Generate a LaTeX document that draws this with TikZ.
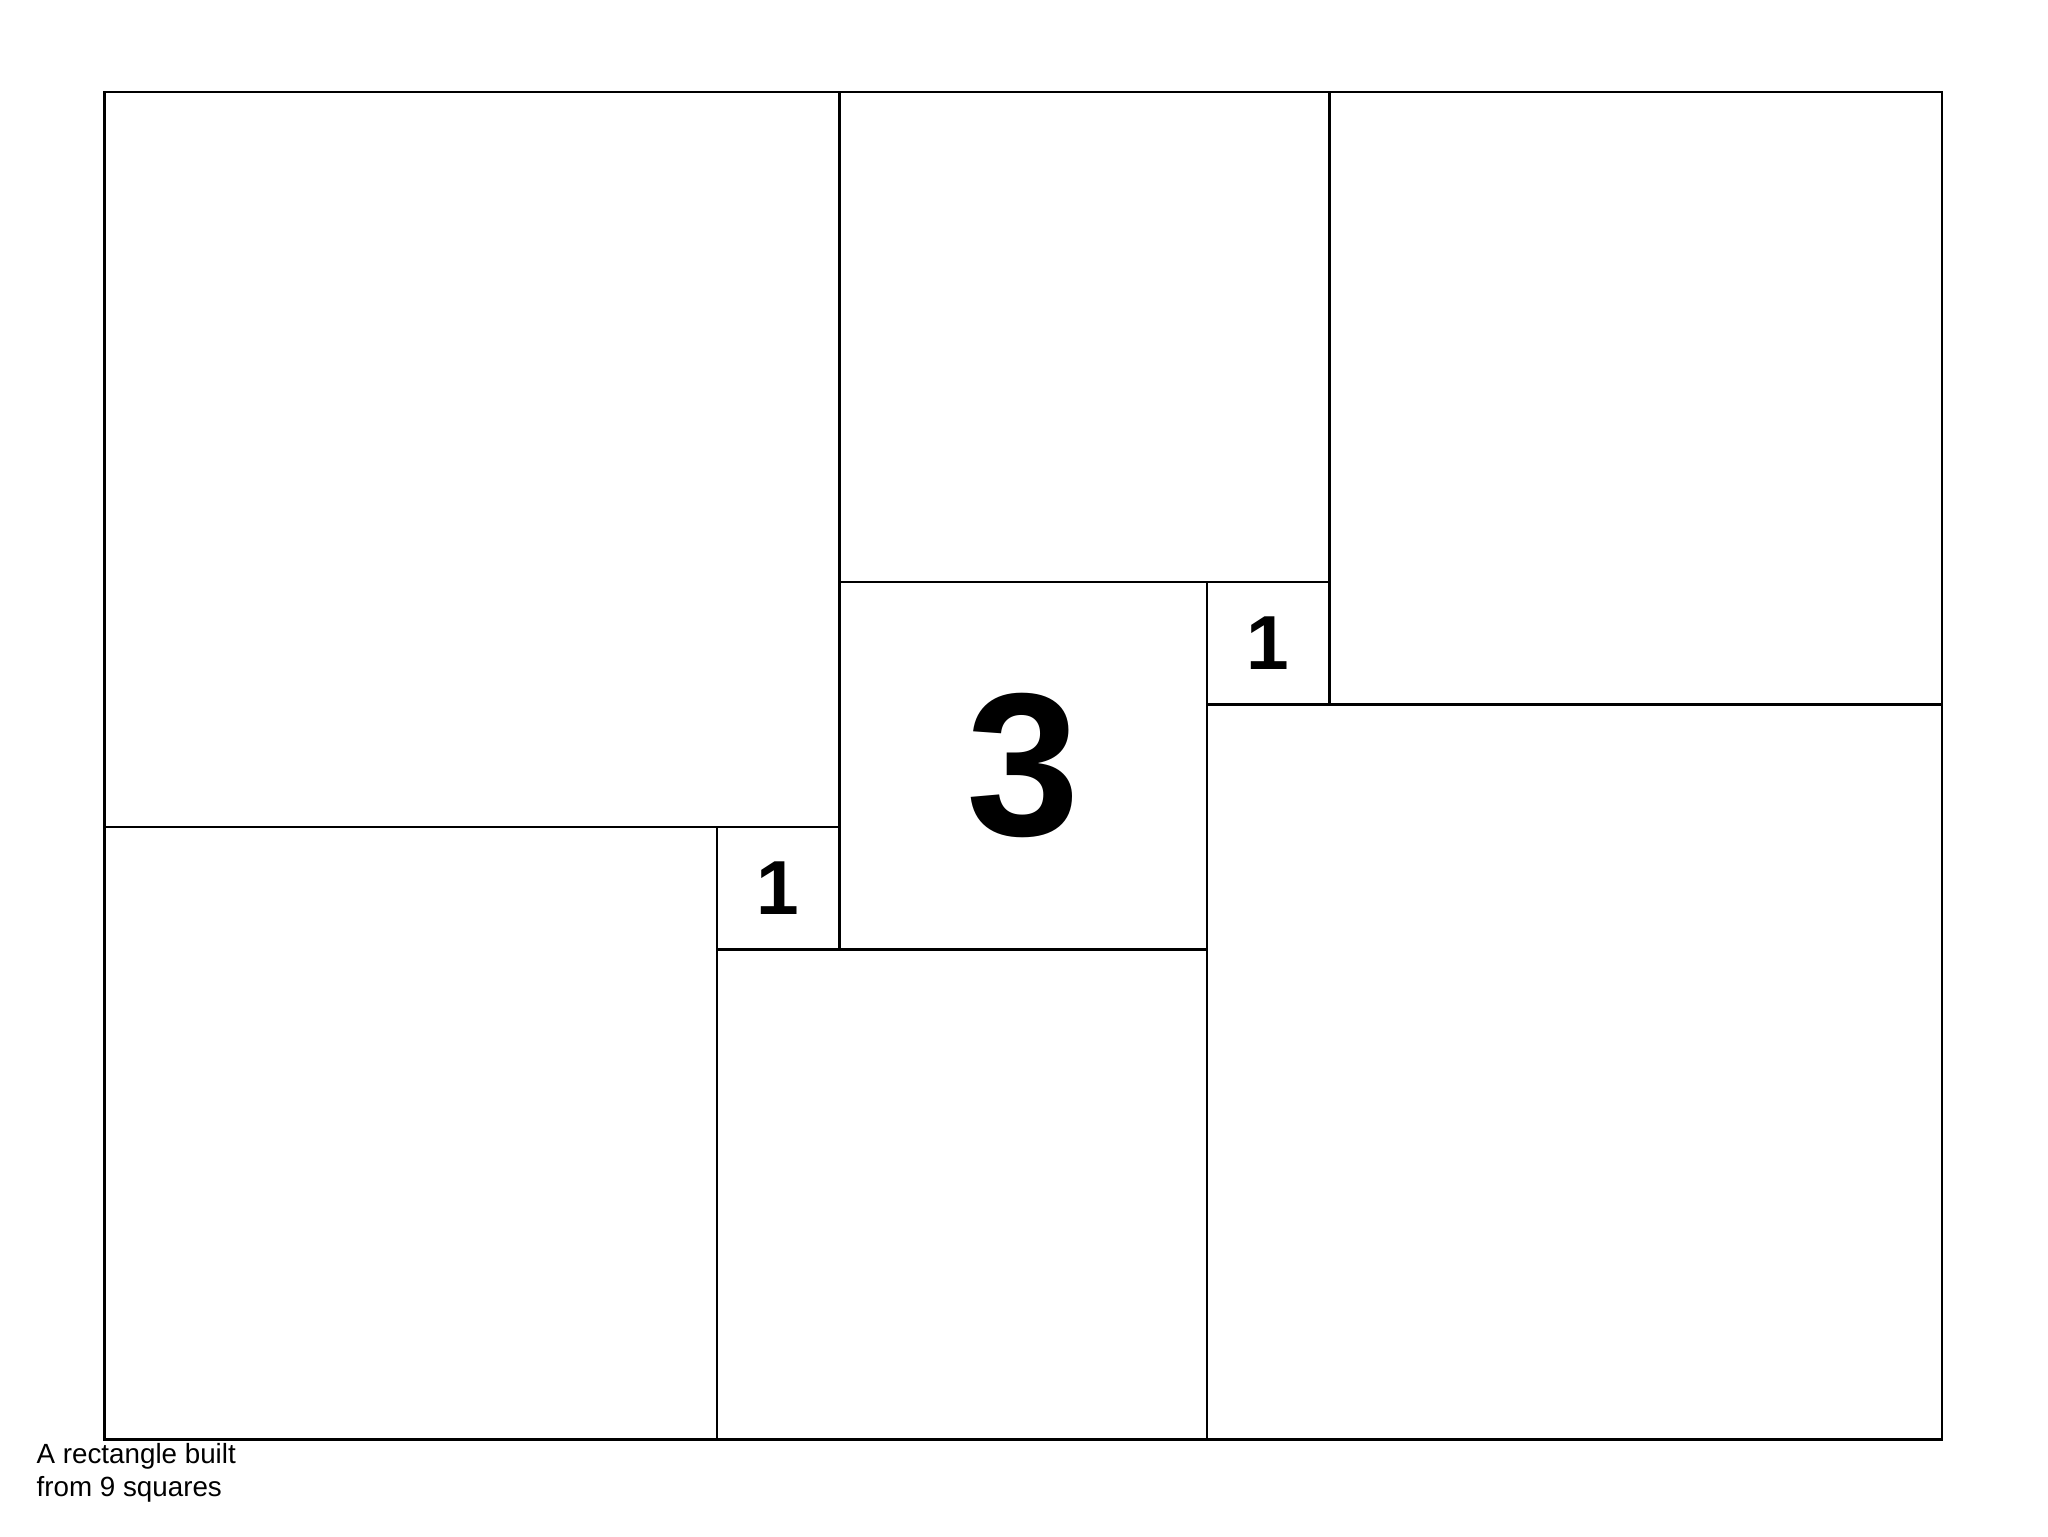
\documentclass[tikz,border=0pt]{standalone}
\usepackage{fontspec}
\setmainfont{Liberation Sans}
\begin{document}
\begin{tikzpicture}[x=1.225cm,y=-1.225cm,
  sq/.style={draw=black, line width=0.6pt, inner sep=0pt, outer sep=0pt, minimum size=#1*1.225cm},
  small/.style={font=\fontsize{21.8pt}{24pt}\selectfont\bfseries},
  big/.style={font=\fontsize{58pt}{62pt}\selectfont\bfseries}]
\useasboundingbox (-0.853,-0.751) rectangle (15.865,11.788);
\node[sq=6] (A) at (3,3) {};
\node[sq=4] (B) at (8,2) {};
\node[sq=5] (C) at (12.5,2.5) {};
\node[sq=1, small] (D) at (9.5,4.5) {1};
\node[sq=3, big] (E) at (7.5,5.5) {3};
\node[sq=1, small] (F) at (5.5,6.5) {1};
\node[sq=5] (G) at (2.5,8.5) {};
\node[sq=4] (H) at (7,9) {};
\node[sq=6] (I) at (12,8) {};
\draw[line width=0.6pt] (0,0) rectangle (15,11);
\node[anchor=north west, inner sep=0pt, align=left,
  font=\fontsize{7.9pt}{9.4pt}\selectfont] (cap) at (-0.559,11.025) {A rectangle built\\from 9 squares};
\end{tikzpicture}
\end{document}
